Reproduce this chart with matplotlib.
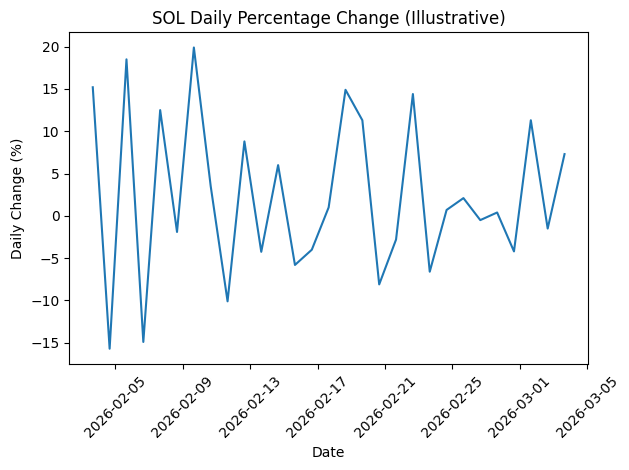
import pandas as pd
import matplotlib
matplotlib.use("Agg")
import matplotlib.pyplot as plt

# daily % change values
dates = pd.date_range("2026-02-03 15:40", periods=29, freq="D")
pct_change = [15.2, -15.7, 18.5, -14.9, 12.5, -1.9, 19.9, 3.5, -10.1, 8.8,
              -4.25, 6.0, -5.8, -4.0, 1.0, 14.9, 11.3, -8.1, -2.8, 14.4,
              -6.6, 0.7, 2.1, -0.5, 0.4, -4.2, 11.3, -1.5, 7.3]

fig, ax = plt.subplots(figsize=(6.29, 4.70), dpi=100)
ax.plot(dates, pct_change)
ax.set_title("SOL Daily Percentage Change (Illustrative)")
ax.set_xlabel("Date")
ax.set_ylabel("Daily Change (%)")
plt.xticks(rotation=45)
fig.subplots_adjust(left=0.110, right=0.935, top=0.931, bottom=0.226)
plt.savefig("out.png", dpi=100)
